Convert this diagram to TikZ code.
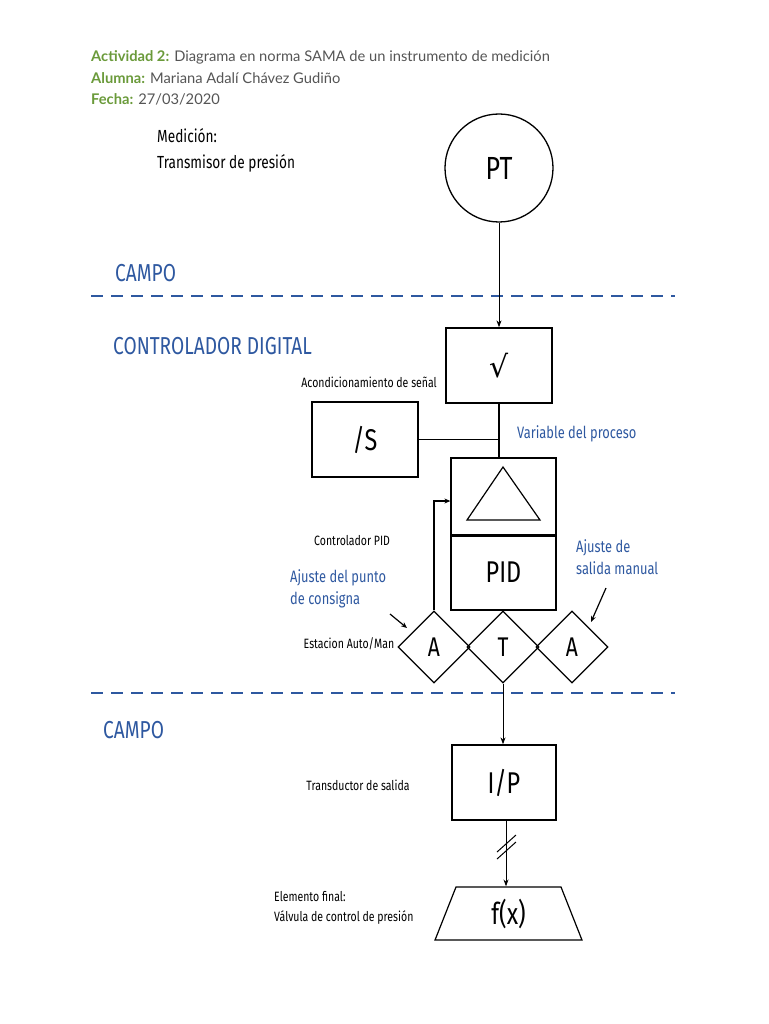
\documentclass[tikz,border=0pt]{standalone}
\usepackage{fontspec}
\setmainfont{Fira Sans}[FakeStretch=0.78]
\newfontfamily\hdr{Lato}
\newfontfamily\sym{DejaVu Sans}
\usetikzlibrary{arrows.meta,shapes.geometric}
\definecolor{sblue}{HTML}{2E58A0}
\definecolor{hgreen}{HTML}{6A9A3A}
\definecolor{hgray}{HTML}{555555}
\begin{document}
\begin{tikzpicture}[x=1pt,y=-1pt,
  box/.style={draw,line width=1.3pt,minimum width=106pt,minimum height=75pt,inner sep=0pt,font=\fontsize{30}{32}\selectfont},
  dia/.style={draw,line width=1.2pt,diamond,minimum width=72pt,minimum height=72pt,inner sep=0pt,font=\fontsize{27}{28}\selectfont},
  lab/.style={font=\fontsize{13.5}{15}\selectfont,inner sep=0pt},
  blab/.style={font=\fontsize{16.5}{19}\selectfont,text=sblue,inner sep=0pt,align=left},
  big/.style={font=\fontsize{24.5}{26}\selectfont,text=sblue,inner sep=0pt,anchor=west},
  hd/.style={anchor=west,inner sep=0pt,font=\hdr\fontsize{14.7}{16}\selectfont,text=hgray},
  sep/.style={sblue,line width=1.5pt,dash pattern=on 12pt off 8pt},
  arr/.style={-{Stealth[length=7pt,width=5pt]},line width=1pt},
  ln/.style={line width=1.2pt}]
\useasboundingbox (0,0) rectangle (768,1024);
% header
\node[hd] (h1) at (91,57) {\textcolor{hgreen}{\bfseries Actividad 2:} Diagrama en norma SAMA de un instrumento de medición};
\node[hd] (h2) at (91,78) {\textcolor{hgreen}{\bfseries Alumna:} Mariana Adalí Chávez Gudiño};
\node[hd] (h3) at (91,99) {\textcolor{hgreen}{\bfseries Fecha:} 27/03/2020};
\node[anchor=west,inner sep=0pt,font=\fontsize{17.5}{19}\selectfont] (m1) at (157,136) {Medición:};
\node[anchor=west,inner sep=0pt,font=\fontsize{17.5}{19}\selectfont] (m2) at (157,163) {Transmisor de presión};
% PT
\node[draw,circle,line width=1.3pt,minimum size=108pt,inner sep=0pt,font=\fontsize{32}{34}\selectfont] (pt) at (499,168) {PT};
\node[big] (c1) at (115,273) {CAMPO};
\draw[sep] (91,296) -- (675,296);
\node[big] (cd) at (113,346) {CONTROLADOR DIGITAL};
\node[box] (sq) at (499,365.5) {\sym\fontsize{30}{32}\selectfont √};
\draw[arr] (pt) -- (sq);
\node[lab,anchor=east] (acl) at (437,382) {Acondicionamiento de señal};
\node[box] (s) at (365,439.5) {/S};
\node[box,minimum width=105pt,minimum height=77pt] (tri) at (503.5,496.5) {};
\draw[line width=1.2pt] (503,467) -- (540,520) -- (467,520) -- cycle;
\node[box,minimum width=105pt,minimum height=75pt] (pid) at (503.5,572.5) {PID};
\draw[line width=2.5pt] (tri.south west) -- (tri.south east);
\draw[ln] (sq.south) -- (sq.south |- tri.north);
\coordinate (j) at (sq.south |- s.east);
\draw[ln] (s.east) -- (j);
\node[blab,anchor=west] (vp) at (517,434) {Variable del proceso};
\node[dia] (a1) at (434,647) {A};
\node[dia] (t) at (503,647) {T};
\node[dia] (a2) at (572,647) {A};
\coordinate (k) at (a1.north |- 0,501);
\draw[ln,-{Stealth[length=6pt,width=5pt]}] (a1.north) -- (k) -- (k -| tri.west);
\node[lab,anchor=west] (cp) at (314,541) {Controlador PID};
\node[blab,anchor=north west] (ap) at (290,569) {Ajuste del punto\\[3pt]de consigna};
\node[blab,anchor=north west] (as) at (576,539) {Ajuste de\\[3pt]salida manual};
\coordinate (p1) at (390,614);
\coordinate (p2) at (606,588);
\draw[ln,-{Stealth[length=6pt,width=5pt]}] (p1) -- (407,628);
\draw[ln,-{Stealth[length=6pt,width=5pt]}] (p2) -- (591,622);
\node[lab] (am) at (349,644) {Estacion Auto/Man};
\draw[sep] (91,693) -- (675,693);
\node[big] (c2) at (103,730) {CAMPO};
\node[box,minimum width=104pt] (ip) at (504,782.5) {I/P};
\draw[arr] (t.south) -- (t.south |- ip.north);
\node[lab] (ts) at (358,785) {Transductor de salida};
\node[draw,line width=1.2pt,trapezium,trapezium stretches=true,minimum width=147pt,minimum height=53pt,trapezium left angle=77,trapezium right angle=77,inner sep=0pt,font=\fontsize{30}{32}\selectfont] (fx) at (508.5,913.5) {f(x)};
\draw[arr] (506,820) -- (fx.north -| 506,0);
\draw[line width=1pt] (497,852) -- (516,835) (497,859) -- (516,842);
\node[lab,anchor=west] (e1) at (274,897) {Elemento final:};
\node[lab,anchor=west] (e2) at (274,918) {Válvula de control de presión};
\end{tikzpicture}
\end{document}
